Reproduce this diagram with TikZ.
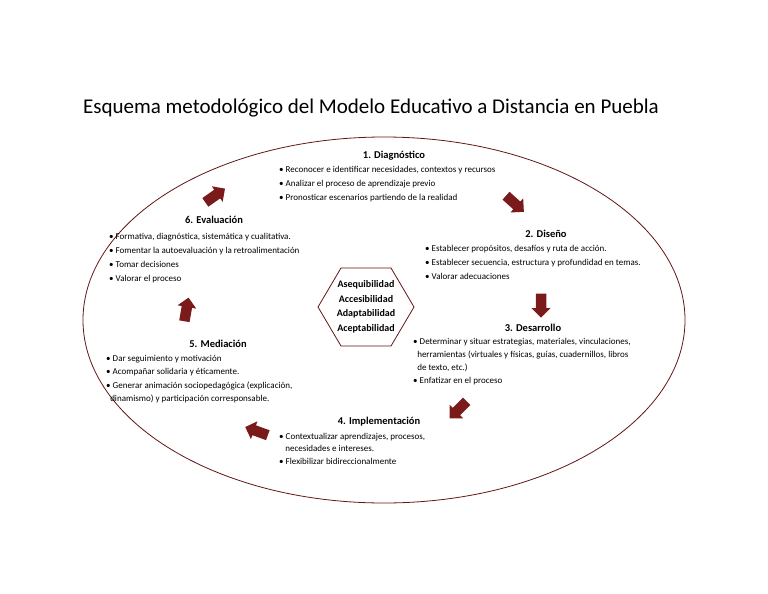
\documentclass[tikz,border=0pt]{standalone}
\usepackage{fontspec}
\setmainfont{Carlito}
\usetikzlibrary{shapes.arrows,shapes.geometric}
\definecolor{dred}{HTML}{7B1A1A}
\begin{document}
\begin{tikzpicture}[x=1pt,y=-1pt,
  blk/.style={single arrow,fill=dred,draw=none,minimum height=24pt,minimum width=19pt,single arrow head extend=3pt,inner sep=3.5pt},
  ttl/.style={font=\fontsize{10.5}{12}\selectfont\bfseries},
  txt/.style={font=\fontsize{9}{14}\selectfont,align=left,anchor=north west,inner sep=0pt}]
\useasboundingbox (0,0) rectangle (768,594);
\node[font=\fontsize{21}{24}\selectfont] (title) at (371,108) {Esquema metodológico del Modelo Educativo a Distancia en Puebla};
\draw[draw=dred!80!black,line width=0.8pt] (384,320) ellipse [x radius=301, y radius=183];
\coordinate (hc) at (366,307);
\draw[draw=dred!80!black,line width=0.8pt] (318,307) -- (341,268) -- (391,268) -- (414,307) -- (391,346) -- (341,346) -- cycle;
\node[font=\fontsize{10}{14.5}\selectfont\bfseries,align=center] (hext) at (hc) {Asequibilidad\\Accesibilidad\\Adaptabilidad\\Aceptabilidad};

\node[ttl] (t1) at (394,156) {1. Diagnóstico};
\node[txt] (b1) at (279,166) {• Reconocer e identificar necesidades, contextos y recursos\\• Analizar el proceso de aprendizaje previo\\• Pronosticar escenarios partiendo de la realidad};
\node[ttl] (t2) at (546,234) {2. Diseño};
\node[txt] (b2) at (425,245) {• Establecer propósitos, desafíos y ruta de acción.\\• Establecer secuencia, estructura y profundidad en temas.\\• Valorar adecuaciones};
\node[ttl] (t3) at (533,328) {3. Desarrollo};
\node[txt,font=\fontsize{9}{13}\selectfont] (b3) at (413,338) {• Determinar y situar estrategias, materiales, vinculaciones,\\\ \ herramientas (virtuales y físicas, guías, cuadernillos, libros\\\ \ de texto, etc.)\\• Enfatizar en el proceso};
\node[ttl] (t4) at (379,422) {4. Implementación};
\node[txt,font=\fontsize{9}{12.5}\selectfont] (b4) at (279,433) {• Contextualizar aprendizajes, procesos,\\\ \ \ necesidades e intereses.\\• Flexibilizar bidireccionalmente};
\node[ttl] (t5) at (218,344) {5. Mediación};
\node[txt,font=\fontsize{9}{13.5}\selectfont] (b5) at (106,355) {• Dar seguimiento y motivación\\• Acompañar solidaria y éticamente.\\• Generar animación sociopedagógica (explicación,\\\ \ dinamismo) y participación corresponsable.};
\node[ttl] (t6) at (214,220) {6. Evaluación};
\node[txt] (b6) at (109,233) {• Formativa, diagnóstica, sistemática y cualitativa.\\• Fomentar la autoevaluación y la retroalimentación\\• Tomar decisiones\\• Valorar el proceso};

\node[blk,rotate=35] (a1) at (213,197) {};
\node[blk,rotate=-42] (a2) at (513,202) {};
\node[blk,rotate=-90] (a3) at (541,303) {};
\node[blk,rotate=-135] (a4) at (460,408) {};
\node[blk,rotate=160] (a5) at (259,432) {};
\node[blk,rotate=80] (a6) at (186,312) {};
\end{tikzpicture}
\end{document}
